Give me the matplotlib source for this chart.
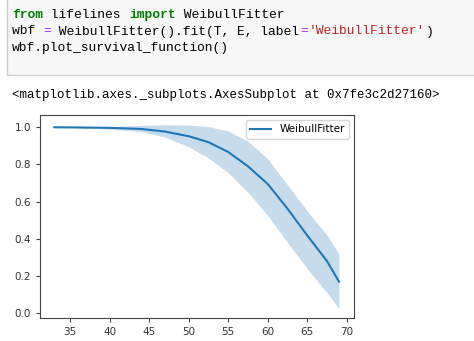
import matplotlib
matplotlib.use("Agg")
import matplotlib.pyplot as plt
from matplotlib.patches import Rectangle

# survival curve
t = [33, 36, 40, 44, 47, 50, 52.5, 55, 57.5, 60, 62.5, 65, 67.5, 69]
surv = [1.0, 0.999, 0.997, 0.991, 0.977, 0.952, 0.92, 0.867, 0.79, 0.695,
        0.562, 0.418, 0.28, 0.17]
upper = [1.0, 1.0, 1.004, 1.01, 1.014, 1.012, 1.004, 0.98, 0.925, 0.83,
         0.69, 0.55, 0.42, 0.32]
lower = [1.0, 0.998, 0.99, 0.977, 0.948, 0.895, 0.835, 0.755, 0.65, 0.525,
         0.38, 0.24, 0.11, 0.027]
xticks = [35, 40, 45, 50, 55, 60, 65, 70]
yticks = [0.0, 0.2, 0.4, 0.6, 0.8, 1.0]

W, H = 474, 341
fig = plt.figure(figsize=(W / 100, H / 100), dpi=100)

# notebook code cell
fig.patches.append(Rectangle((7 / W, 1 - 75 / H), 480 / W, 80 / H,
                             transform=fig.transFigure, facecolor="#f7f7f7",
                             edgecolor="#cfcfcf", linewidth=1))

code = [
    [("from", "#008000", "bold"), (" lifelines ", "black", "normal"),
     ("import", "#008000", "bold"), (" WeibullFitter", "black", "normal")],
    [("wbf ", "black", "normal"), ("=", "#aa22ff", "normal"),
     (" WeibullFitter().fit(T, E, label", "black", "normal"),
     ("=", "#aa22ff", "normal"), ("'WeibullFitter'", "#ba2121", "normal"),
     (")", "black", "normal")],
    [("wbf.plot_survival_function()", "black", "normal")],
]
cw = 7.8
for row, parts in enumerate(code):
    y = 1 - (15 + row * 16.5) / H
    col = 0
    for txt, c, w in parts:
        fig.text((12 + col * cw) / W, y, txt, color=c, fontweight=w,
                 family="Liberation Mono", fontsize=9.4, va="center")
        col += len(txt)

fig.text(12 / W, 1 - 95 / H,
         "<matplotlib.axes._subplots.AxesSubplot at 0x7fe3c2d27160>",
         family="Liberation Mono", fontsize=9, va="center")

ax = fig.add_axes([40 / W, 23 / H, 314 / W, 203 / H])
ax.plot(t, surv, color="#1f77b4", linewidth=1.5, label="WeibullFitter")
ax.fill_between(t, lower, upper, color="#1f77b4", alpha=0.25, linewidth=0)
ax.set_xlim(31.2, 70.9)
ax.set_ylim(-0.025, 1.066)
ax.set_xticks(xticks)
ax.set_yticks(yticks)
ax.tick_params(labelsize=7.5, length=3, color="#444444", labelcolor="#333333")
for s in ax.spines.values():
    s.set_color("#444444")
ax.legend(loc="upper right", fontsize=7.5)

fig.savefig("out.png", dpi=100)
